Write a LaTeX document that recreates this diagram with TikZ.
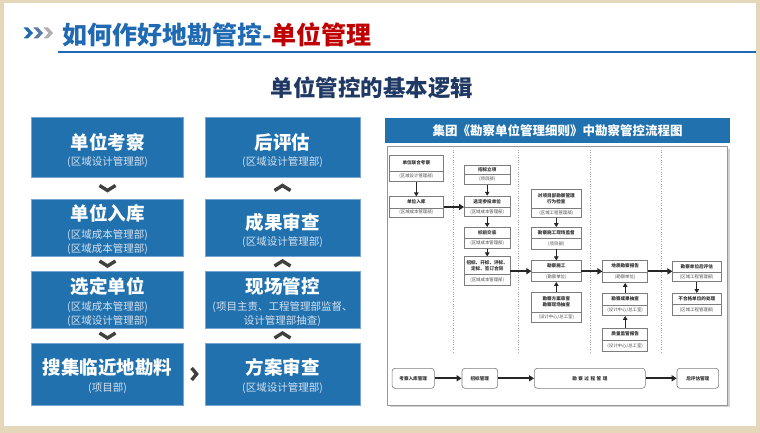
\documentclass[tikz,border=0pt]{standalone}
\usepackage{fontspec}
\newfontfamily\cjk{Noto Sans CJK SC}
\usetikzlibrary{calc,arrows.meta}

\definecolor{paper}{RGB}{229,216,186}
\definecolor{boxblue}{RGB}{33,113,174}
\definecolor{boxedge}{RGB}{120,165,210}
\definecolor{titleblue}{RGB}{31,106,178}
\definecolor{titlered}{RGB}{192,0,0}
\definecolor{navy}{RGB}{31,56,100}
\definecolor{subgray}{RGB}{214,226,240}
\definecolor{chevgray}{RGB}{64,64,64}
\definecolor{chevmid}{RGB}{88,122,165}
\definecolor{chevlight}{RGB}{175,175,175}
\definecolor{flowgray}{RGB}{125,125,125}

% 流程图小方框：名称, 中心x, 上沿, 分隔线, 下沿, 宽度, 标题, 部门
\newcommand{\flowbox}[8]{%
  \node[fbox, minimum width=#6, minimum height=#5-#3] (#1) at (#2,{(#3+#5)/2}) {};
  \draw[fdiv] ({#2-#6/2},#4) -- ({#2+#6/2},#4);
  \node[ftitle] (#1t) at (#2,{(#3+#4)/2}) {#7};
  \node[fsub] (#1s) at (#2,{(#4+#5)/2}) {#8};
}

\tikzset{
  ubox/.style={draw=boxedge, line width=0.8pt, fill=boxblue, inner sep=0pt},
  utitle/.style={font=\cjk\bfseries\fontsize{18.5}{20}\selectfont, text=white, inner sep=0pt},
  usub/.style={font=\cjk\fontsize{10.5}{12}\selectfont, text=subgray, inner sep=0pt},
  fbox/.style={draw=flowgray, line width=0.5pt, fill=white, inner sep=0pt},
  fdiv/.style={draw=flowgray, line width=0.4pt},
  ftitle/.style={font=\cjk\bfseries\fontsize{4.6}{5.6}\selectfont, text=black!80, align=center, inner sep=0pt},
  fsub/.style={font=\cjk\fontsize{4.4}{5}\selectfont, text=black!70, inner sep=0pt},
  fround/.style={draw=flowgray, rounded corners=3pt, line width=0.6pt, fill=white, inner sep=0pt,
    minimum height=20, font=\cjk\bfseries\fontsize{4.6}{5}\selectfont, text=black!80},
  farrow/.style={-{Triangle[length=4pt,width=4.5pt]}, line width=1pt, black!85},
  fbig/.style={-{Triangle[length=5pt,width=6pt]}, line width=2.2pt, black!85},
  chevline/.style={draw=chevgray, line width=3.4pt, line join=miter},
  downchev/.pic={\draw[chevline] (-8,-2.5) -- (0,2.5) -- (8,-2.5);},
  upchev/.pic={\draw[chevline] (-8,2.5) -- (0,-2.5) -- (8,2.5);},
  rightchev/.pic={\draw[chevline] (-2.5,-6) -- (2.5,0) -- (-2.5,6);}
}

\begin{document}
\begin{tikzpicture}[x=1pt, y=-1pt]

  % 底色与白色版面
  \fill[paper] (0,0) rectangle (760,433);
  \useasboundingbox (0,0) rectangle (760,433);
  \fill[white] (4,3) rectangle (756,426);

  % ---- 标题 ----
  \foreach \x/\c in {23.5/titleblue, 33.5/chevmid, 43.5/chevlight}
    \fill[\c] (\x,27.5) -- (\x+4.5,27.5) -- (\x+9.5,33) -- (\x+4.5,38.5) -- (\x,38.5) -- (\x+5,33) -- cycle;
  \node[anchor=west, inner sep=0pt, font=\cjk\bfseries\fontsize{25}{28}\selectfont] (title) at (62,35)
    {\textcolor{titleblue}{如何作好地勘管控-}\textcolor{titlered}{单位管理}};
  \draw[titleblue, line width=2.8pt] (58,52) -- (756,52);

  \node[font=\cjk\bfseries\fontsize{22.5}{25}\selectfont, text=navy, inner sep=0pt] (subtitle) at (372,88)
    {单位管控的基本逻辑};

  % ---- 左列 ----
  \node[ubox, minimum width=151.5, minimum height=60] (unitcheck) at (107.5,147) {};
  \node[utitle] (unitcheckt) at (107.5,142) {单位考察};
  \node[usub] (unitchecks) at (107.5,162) {(区域设计管理部)};

  \node[ubox, minimum width=151.5, minimum height=57] (unitin) at (107.5,227.5) {};
  \node[utitle] (unitint) at (107.5,213) {单位入库};
  \node[usub] (unitins) at (107.5,235) {(区域成本管理部)};
  \node[usub] (unitins2) at (107.5,249) {(区域成本管理部)};

  \node[ubox, minimum width=151.5, minimum height=57] (unitpick) at (107.5,299.5) {};
  \node[utitle] (unitpickt) at (107.5,286) {选定单位};
  \node[usub] (unitpicks) at (107.5,307) {(区域成本管理部)};
  \node[usub] (unitpicks2) at (107.5,321) {(区域设计管理部)};

  \node[ubox, minimum width=151.5, minimum height=62] (collect) at (107.5,374) {};
  \node[utitle] (collectt) at (107.5,367) {搜集临近地勘料};
  \node[usub] (collects) at (107.5,388) {(项目部)};

  % ---- 右列 ----
  \node[ubox, minimum width=155, minimum height=60] (posteval) at (282.5,147) {};
  \node[utitle] (postevalt) at (282.5,142) {后评估};
  \node[usub] (postevals) at (282.5,162) {(区域设计管理部)};

  \node[ubox, minimum width=155, minimum height=57] (resultrev) at (282.5,227.5) {};
  \node[utitle] (resultrevt) at (282.5,222) {成果审查};
  \node[usub] (resultrevs) at (282.5,242) {(区域设计管理部)};

  \node[ubox, minimum width=155, minimum height=57] (sitectl) at (282.5,299.5) {};
  \node[utitle] (sitectlt) at (282.5,286) {现场管控};
  \node[usub] (sitectls) at (282.5,307) {(项目主责、工程管理部监督、};
  \node[usub] (sitectls2) at (282.5,321) {设计管理部抽查)};

  \node[ubox, minimum width=155, minimum height=62] (planrev) at (282.5,374) {};
  \node[utitle] (planrevt) at (282.5,367) {方案审查};
  \node[usub] (planrevs) at (282.5,388) {(区域设计管理部)};

  % ---- 箭头符号 ----
  \pic at ($(unitcheck.south)!0.5!(unitin.north)$) {downchev};
  \pic at ($(unitin.south)!0.5!(unitpick.north)$) {downchev};
  \pic at ($(unitpick.south)!0.5!(collect.north)$) {downchev};
  \pic at ($(collect.east)!0.5!(planrev.west)$) {rightchev};
  \pic at ($(planrev.north)!0.5!(sitectl.south)$) {upchev};
  \pic at ($(sitectl.north)!0.5!(resultrev.south)$) {upchev};
  \pic at ($(resultrev.north)!0.5!(posteval.south)$) {upchev};

  % ---- 流程图 ----
  \node[fill=boxblue, minimum width=345, minimum height=25, inner sep=0pt, text=white,
    font=\cjk\bfseries\fontsize{12.5}{14}\selectfont] (flowhead) at (557.5,130.5)
    {集团《勘察单位管理细则》中勘察管控流程图};
  \fill[gray!35] (389.5,148.5) rectangle (729.5,407);
  \draw[flowgray!80, line width=0.8pt, fill=white] (387.7,146.7) rectangle (727.7,405);
  \foreach \x in {452.7,518.3,590,661}
    \draw[gray!70, dotted, line width=0.4pt] (\x,150) -- (\x,353);

  \flowbox{fb1}{416.3}{155}{170.7}{181.7}{54}{单位联合考察}{(区域设计管理部)}
  \flowbox{fb2}{416.3}{196.7}{207.7}{217.3}{54}{单位入库}{(区域成本管理部)}
  \flowbox{fc1}{487.2}{165}{174.3}{184.3}{45.7}{招标立项}{(项目部)}
  \flowbox{fc2}{487.2}{196}{206.7}{216.7}{45.7}{选定参投单位}{(区域成本管理部)}
  \flowbox{fc3}{487.2}{227.3}{237.7}{248.3}{45.7}{标前交底}{(区域成本管理部)}
  \flowbox{fc4}{487.2}{256.7}{274.3}{285}{45.7}{招标、开标、评标、\\定标、签订合同}{(区域成本管理部)}
  \flowbox{fd1}{556.3}{189.3}{208.3}{217.3}{49.3}{对项目部勘察管理\\行为检查}{(区域工程管理部)}
  \flowbox{fd2}{556.3}{227.3}{238.3}{249}{49.3}{勘察施工现场监督}{(项目部)}
  \flowbox{fd3}{556.3}{260.7}{271.7}{281.7}{49.3}{勘察施工}{(勘察单位)}
  \flowbox{fd4}{556.3}{292.3}{311.7}{322.7}{49.3}{勘察方案审查\\勘察现场抽查}{(设计中心/总工室)}
  \flowbox{fe1}{625.2}{260}{271.7}{282.7}{45}{地质勘察报告}{(勘察单位)}
  \flowbox{fe2}{625.2}{293.3}{305}{315.7}{45}{勘察成果抽查}{(设计中心/总工室)}
  \flowbox{fe3}{625.2}{328.3}{340}{351.7}{45}{质量监管报告}{(设计中心/总工室)}
  \flowbox{ff1}{696.8}{261}{272.3}{281.7}{48.3}{勘察单位后评估}{(区域工程管理部)}
  \flowbox{ff2}{696.8}{293.3}{304.3}{315}{48.3}{不合格单位的处理}{(区域工程管理部)}

  \draw[farrow] (fb1) -- (fb2);
  \draw[fbig] (fb2.east) -- (fb2.east -| fc2.west);
  \draw[farrow] (fc1) -- (fc2);
  \draw[farrow] (fc2) -- (fc3);
  \draw[farrow] (fc3) -- (fc4);
  \draw[fbig] (fc4.east |- fd3.west) -- (fd3.west);
  \draw[farrow] (fd1) -- (fd2);
  \draw[farrow] (fd2) -- (fd3);
  \draw[farrow] (fd4) -- (fd3);
  \draw[fbig] (fd3.east |- fe1.west) -- (fe1.west);
  \draw[farrow] (fe2) -- (fe1);
  \draw[farrow] (fe3) -- (fe2);
  \draw[fbig] (fe1.east |- ff1.west) -- (ff1.west);
  \draw[farrow] (ff1) -- (ff2);

  % 底部四个阶段
  \node[fround, minimum width=42.3] (fg1) at (413.2,378.3) {考察入库管理};
  \node[fround, minimum width=35.7] (fg2) at (479.8,378.3) {招标管理};
  \node[fround, minimum width=111] (fg3) at (589.8,378.3)
    {勘\hspace{1.5pt}察\hspace{1.5pt}过\hspace{1.5pt}程\hspace{1.5pt}管\hspace{1.5pt}理};
  \node[fround, minimum width=41.7] (fg4) at (697.8,378.3) {后评估管理};
  \draw[fbig] (fg1) -- (fg2);
  \draw[fbig] (fg2) -- (fg3);
  \draw[fbig] (fg3) -- (fg4);

\end{tikzpicture}
\end{document}
